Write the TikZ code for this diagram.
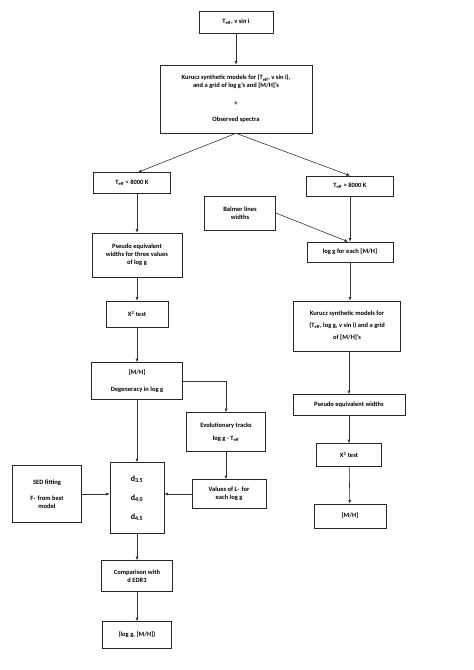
\documentclass[tikz,border=0pt]{standalone}
\usepackage{fontspec}
\setmainfont{Carlito}
\usepackage{tikz}
\usetikzlibrary{arrows.meta,positioning}

\begin{document}
\begin{tikzpicture}[
    x=1pt,y=-1pt,
    line cap=round,
    %styles
    box/.style={draw=black!85,line width=0.6pt,align=center,inner sep=1pt,
      font=\bfseries\fontsize{6.5}{8}\selectfont},
    flow/.style={draw=black!80,line width=0.6pt,-{Latex[length=3.5pt,width=3pt]}},
  ]
  \useasboundingbox (0,0) rectangle (474,670);

  %top part
  \node[box,minimum width=74,minimum height=22] (teff) at (236,22)
  {T\textsubscript{eff}, v sin i};
  \node[box,minimum width=152,minimum height=68] (kurucz) at (236,99)
  {Kurucz synthetic models for (T\textsubscript{eff}, v sin i),\\
    and a grid of log g's and [M/H]'s\\[10pt]
    +\\[8pt]
    Observed spectra};

  %left branch
  \node[box,minimum width=77,minimum height=21] (cool) at (132,183)
  {T\textsubscript{eff} < 8000 K};
  \node[box,minimum width=90,minimum height=44] (pewthree) at (137,255)
  {Pseudo equivalent\\widths for three values\\of log g};
  \node[box,minimum width=62,minimum height=26] (chileft) at (137,314)
  {X\textsuperscript{2} test};
  \node[box,minimum width=91,minimum height=37] (mhleft) at (137,381)
  {[M/H]\\[9pt]Degeneracy in log g};
  \node[box,minimum width=79,minimum height=39] (evol) at (226,432)
  {Evolutionary tracks\\[5pt]log g - T\textsubscript{eff}};
  \node[box,minimum width=54,minimum height=71,font=\bfseries\fontsize{8}{9}\selectfont] (dist) at (137,498)
  {d\textsubscript{3.5}\\[10pt]d\textsubscript{4.0}\\[10pt]d\textsubscript{4.5}};
  \node[box,minimum width=69,minimum height=57] (sed) at (47,494)
  {SED fitting\\[8pt]F\textsubscript{*} from best\\model};
  \node[box,minimum width=74,minimum height=29] (lum) at (229,494)
  {Values of L\textsubscript{*} for\\each log g};
  \node[box,minimum width=71,minimum height=31] (gaia) at (137,576)
  {Comparison with\\d EDR3};
  \node[box,minimum width=69,minimum height=27] (resleft) at (137,635)
  {(log g, [M/H])};

  %right branch
  \node[box,minimum width=87,minimum height=20] (hot) at (350,186)
  {T\textsubscript{eff} > 8000 K};
  \node[box,minimum width=71,minimum height=34] (balmer) at (240,213)
  {Balmer lines\\widths};
  \node[box,minimum width=86,minimum height=20] (logg) at (350,252)
  {log g for each [M/H]};
  \node[box,minimum width=107,minimum height=50] (kuruczhot) at (347,326)
  {Kurucz synthetic models for\\[4pt]
    (T\textsubscript{eff}, log g, v sin i) and a grid\\[4pt]
    of [M/H]'s};
  \node[box,minimum width=112,minimum height=21] (pewhot) at (349,405)
  {Pseudo equivalent widths};
  \node[box,minimum width=65,minimum height=23] (chiright) at (349,455)
  {X\textsuperscript{2} test};
  \node[box,minimum width=72,minimum height=24] (mhright) at (350,516)
  {[M/H]};

  %connectors
  \draw[flow] (teff) -- (kurucz);
  \draw[flow] (kurucz.south) -- ([xshift=6]cool.north);
  \draw[flow] (kurucz.south) -- (hot.north);
  \draw[flow] (pewthree.north |- cool.south) -- (pewthree.north);
  \draw[flow] (pewthree) -- (chileft);
  \draw[flow] (chileft) -- (mhleft);
  \draw[flow] (mhleft.east) -| (evol.north);
  \draw[flow] (mhleft) -- (dist);
  \draw[flow] (evol.south) -- (evol.south |- lum.north);
  \draw[flow] (lum.west |- sed.east) -- (dist.east |- sed.east);
  \draw[flow] (sed.east) -- (sed.east -| dist.west);
  \draw[flow] (dist) -- (gaia);
  \draw[flow] (gaia) -- (resleft);

  \draw[flow] (hot.south) -- (logg.north);
  \draw[flow] (balmer.east) -- ([xshift=-2]logg.north);
  \draw[flow] (logg.south) -- (logg.south |- kuruczhot.north);
  \draw[flow] (pewhot.north |- kuruczhot.south) -- (pewhot.north);
  \draw[flow] (pewhot) -- (chiright);
  \draw[flow] (chiright) -- (mhright);
\end{tikzpicture}
\end{document}
